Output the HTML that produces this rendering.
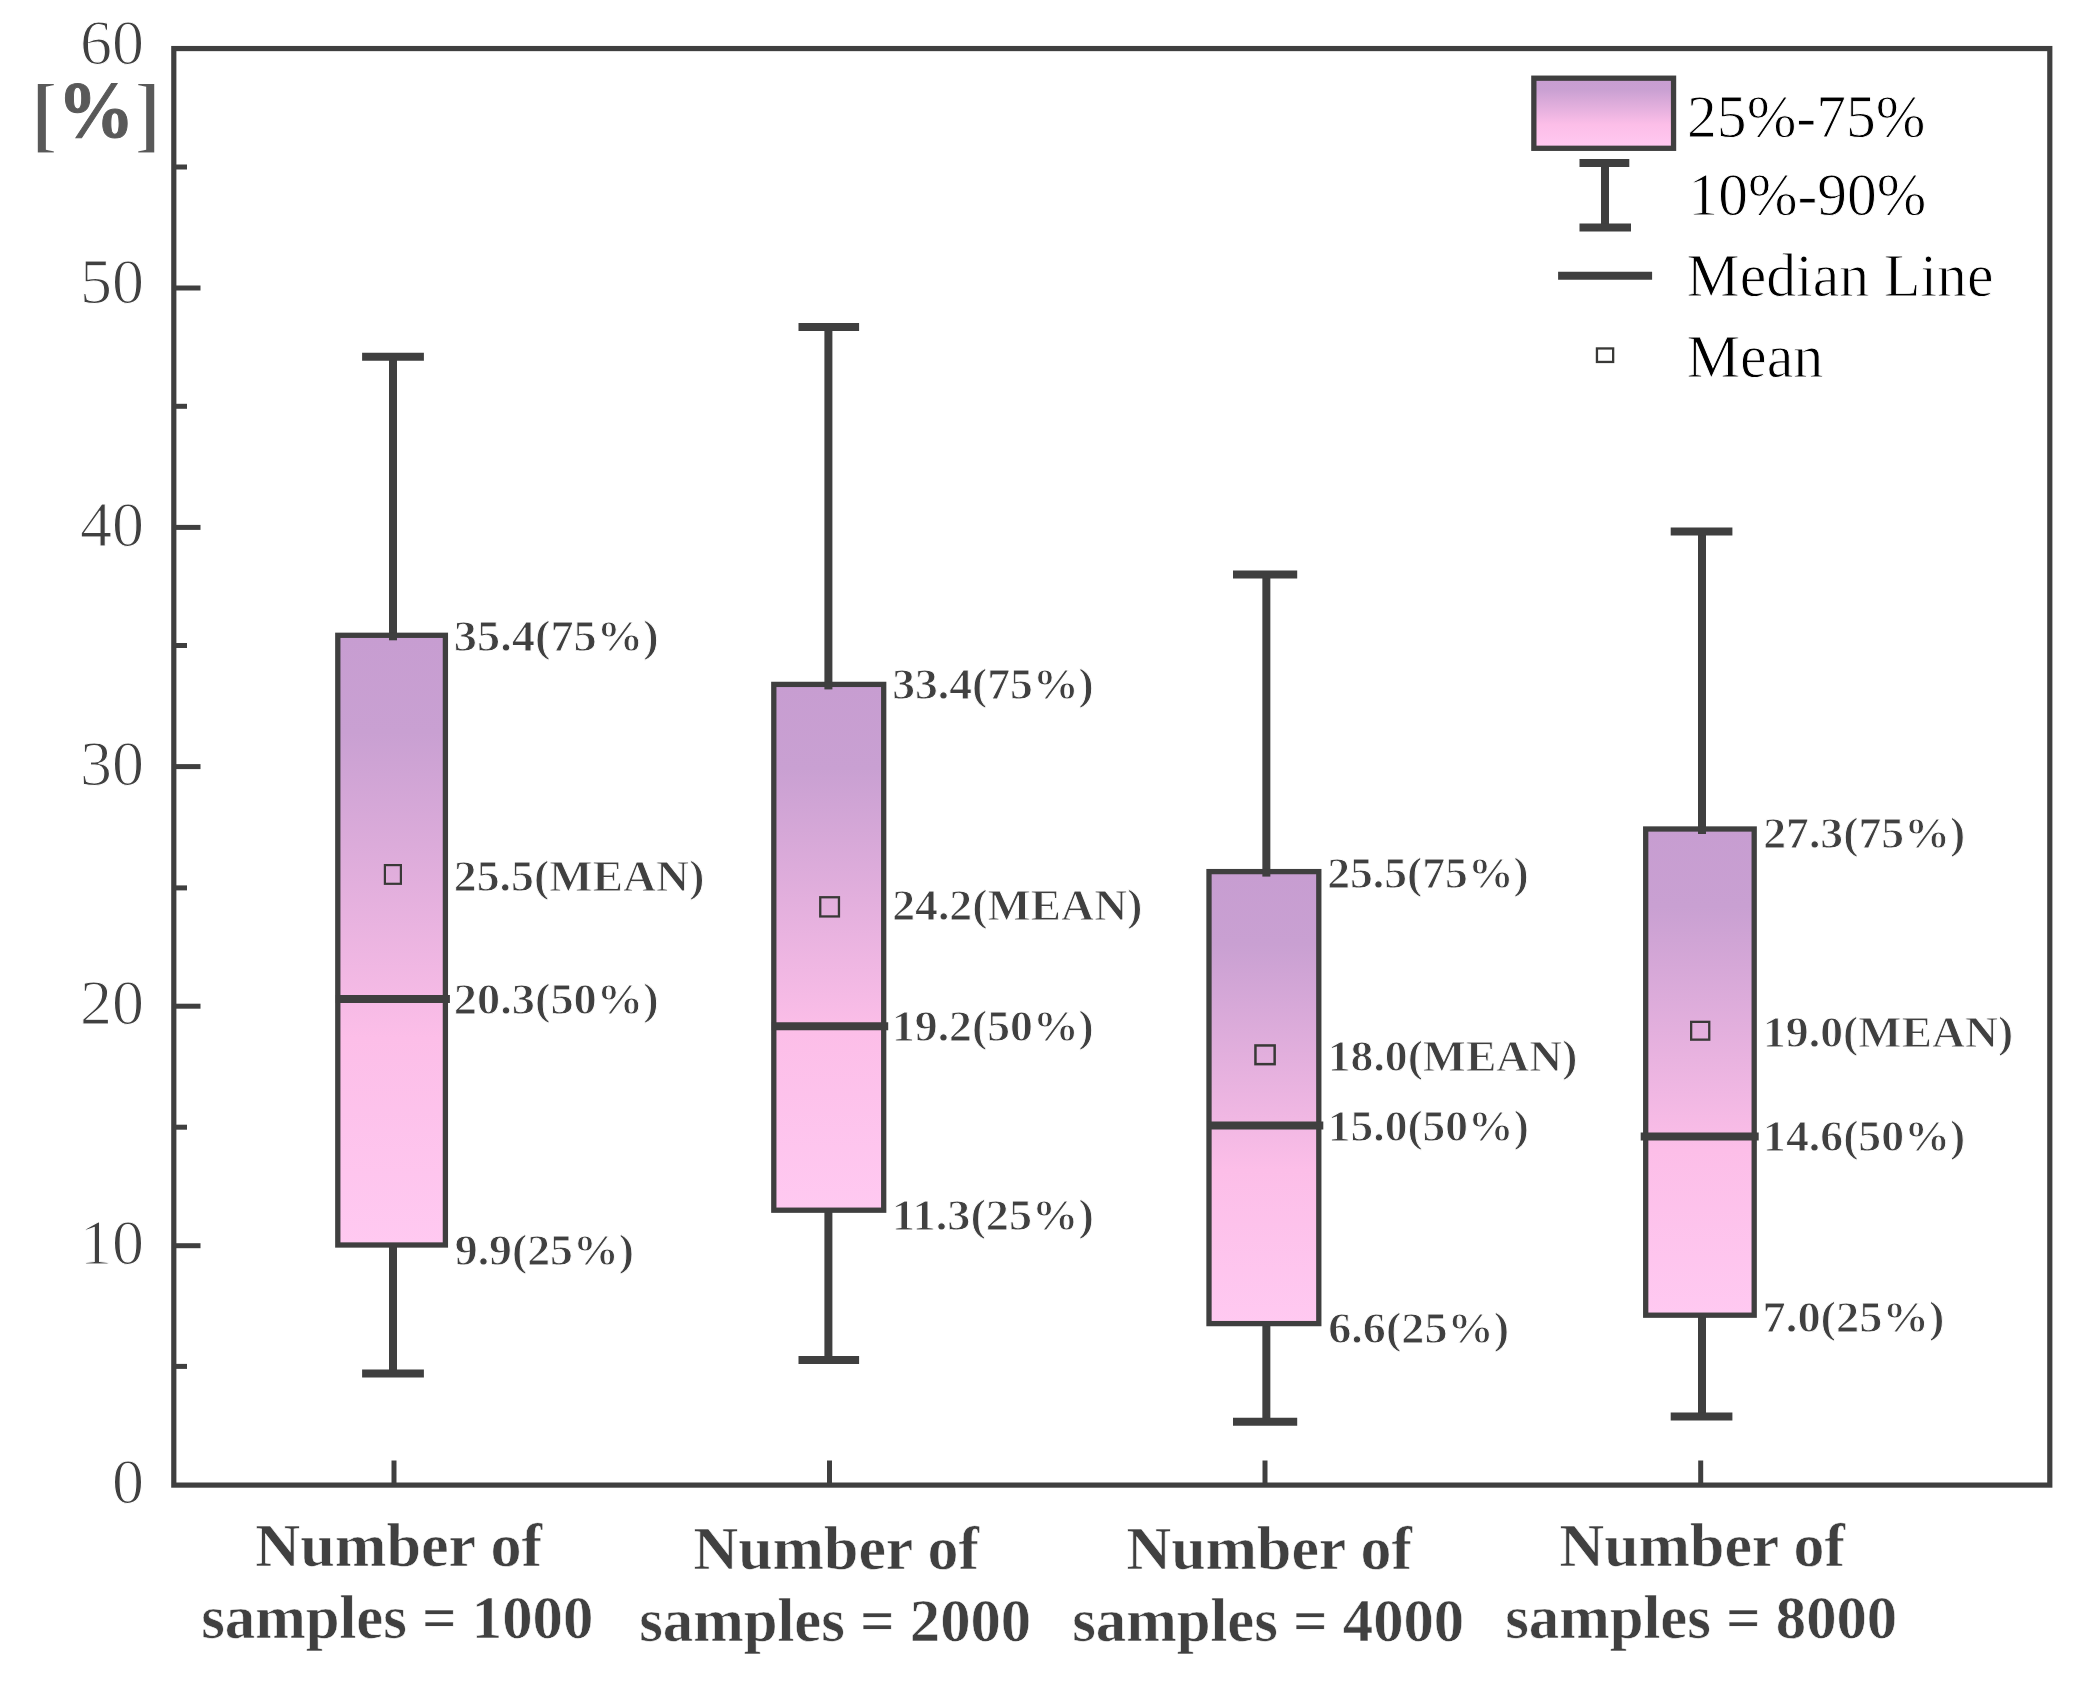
<!DOCTYPE html>
<html lang="en"><head><meta charset="utf-8"><title>Box plot</title>
<style>
html,body{margin:0;padding:0;background:#fff;}
body{width:2089px;height:1686px;overflow:hidden;}
svg{display:block;}
text{font-family:"Liberation Serif",serif;filter:blur(0.55px);}
.tick{font-size:64px;fill:#404040;stroke:#fff;stroke-width:1.1px;}
.lab{font-size:44.8px;font-weight:bold;fill:#404040;stroke:#fff;stroke-width:0.9px;}
.xl{font-size:61.5px;font-weight:bold;fill:#404040;stroke:#fff;stroke-width:0.6px;}
.lg{font-size:60.5px;fill:#000;stroke:#fff;stroke-width:0.9px;}
.unit{font-size:81px;font-weight:bold;fill:#595959;stroke:#fff;stroke-width:1.8px;}
</style></head><body>
<svg width="2089" height="1686" viewBox="0 0 2089 1686">
<defs>
<linearGradient id="g" x1="0" y1="0" x2="0" y2="1">
<stop offset="0" stop-color="#c79dd1"/>
<stop offset="0.16" stop-color="#c9a0d2"/>
<stop offset="0.66" stop-color="#fcbee8"/>
<stop offset="1" stop-color="#ffc9f1"/>
</linearGradient>
</defs>
<rect width="2089" height="1686" fill="#ffffff"/>

<rect x="173.8" y="48.55" width="1876.0000000000002" height="1436.55" fill="none" stroke="#3f3f3f" stroke-width="5.2"/>
<line x1="173.8" y1="167.0" x2="187" y2="167.0" stroke="#3f3f3f" stroke-width="5"/>
<line x1="173.8" y1="288.0" x2="200.5" y2="288.0" stroke="#3f3f3f" stroke-width="5"/>
<line x1="173.8" y1="406.3" x2="187" y2="406.3" stroke="#3f3f3f" stroke-width="5"/>
<line x1="173.8" y1="527.4" x2="200.5" y2="527.4" stroke="#3f3f3f" stroke-width="5"/>
<line x1="173.8" y1="645.5" x2="187" y2="645.5" stroke="#3f3f3f" stroke-width="5"/>
<line x1="173.8" y1="766.6" x2="200.5" y2="766.6" stroke="#3f3f3f" stroke-width="5"/>
<line x1="173.8" y1="887.9" x2="187" y2="887.9" stroke="#3f3f3f" stroke-width="5"/>
<line x1="173.8" y1="1006.2" x2="200.5" y2="1006.2" stroke="#3f3f3f" stroke-width="5"/>
<line x1="173.8" y1="1127.2" x2="187" y2="1127.2" stroke="#3f3f3f" stroke-width="5"/>
<line x1="173.8" y1="1245.7" x2="200.5" y2="1245.7" stroke="#3f3f3f" stroke-width="5"/>
<line x1="173.8" y1="1366.4" x2="187" y2="1366.4" stroke="#3f3f3f" stroke-width="5"/>
<text class="tick" x="144" y="64.3" text-anchor="end">60</text>
<text class="tick" x="144" y="303.2" text-anchor="end">50</text>
<text class="tick" x="144" y="545.5" text-anchor="end">40</text>
<text class="tick" x="144" y="784.8" text-anchor="end">30</text>
<text class="tick" x="144" y="1024.0" text-anchor="end">20</text>
<text class="tick" x="144" y="1263.7" text-anchor="end">10</text>
<text class="tick" x="144" y="1503.0" text-anchor="end">0</text>
<text class="unit" x="31" y="136.5" textLength="130" lengthAdjust="spacingAndGlyphs"><tspan dy="5.5" font-size="84">[</tspan><tspan dy="-5.5" stroke="#595959" stroke-width="1.0">%</tspan><tspan dy="5.5" font-size="84">]</tspan></text>
<line x1="393.0" y1="356.75" x2="393.0" y2="1373.5" stroke="#3f3f3f" stroke-width="8"/>
<line x1="362.1" y1="356.75" x2="423.9" y2="356.75" stroke="#3f3f3f" stroke-width="8"/>
<line x1="362.1" y1="1373.5" x2="423.9" y2="1373.5" stroke="#3f3f3f" stroke-width="8"/>
<rect x="337.8" y="635.3" width="107.6" height="609.7" fill="url(#g)" stroke="#3f3f3f" stroke-width="5.3"/>
<line x1="393.0" y1="633.3" x2="393.0" y2="640.3" stroke="#3f3f3f" stroke-width="8"/>
<line x1="335.8" y1="999.0" x2="449.9" y2="999.0" stroke="#3f3f3f" stroke-width="8"/>
<rect x="384.9" y="865.1" width="16.0" height="18.7" fill="none" stroke="#393937" stroke-width="2.2"/>
<line x1="394.0" y1="1460.5" x2="394.0" y2="1485.1" stroke="#3f3f3f" stroke-width="5"/>
<text class="lab" x="453.8" y="650.9" textLength="204.8" lengthAdjust="spacingAndGlyphs">35.4(75%)</text>
<text class="lab" x="453.8" y="890.6" textLength="250.6" lengthAdjust="spacingAndGlyphs">25.5(MEAN)</text>
<text class="lab" x="453.8" y="1014.1" textLength="204.8" lengthAdjust="spacingAndGlyphs">20.3(50%)</text>
<text class="lab" x="454.8" y="1264.7" textLength="179.2" lengthAdjust="spacingAndGlyphs">9.9(25%)</text>
<line x1="828.4" y1="327.05" x2="828.4" y2="1360.0" stroke="#3f3f3f" stroke-width="8"/>
<line x1="798.5" y1="327.05" x2="859.1" y2="327.05" stroke="#3f3f3f" stroke-width="8"/>
<line x1="798.5" y1="1360.0" x2="859.1" y2="1360.0" stroke="#3f3f3f" stroke-width="8"/>
<rect x="773.8" y="684.4" width="109.9" height="525.8" fill="url(#g)" stroke="#3f3f3f" stroke-width="5.3"/>
<line x1="828.4" y1="682.4" x2="828.4" y2="689.4" stroke="#3f3f3f" stroke-width="8"/>
<line x1="771.8" y1="1026.2" x2="888.2" y2="1026.2" stroke="#3f3f3f" stroke-width="8"/>
<rect x="820.25" y="897.25" width="18.7" height="19.2" fill="none" stroke="#393937" stroke-width="2.3"/>
<line x1="829.5" y1="1460.5" x2="829.5" y2="1485.1" stroke="#3f3f3f" stroke-width="5"/>
<text class="lab" x="892.2" y="699.1" textLength="201.6" lengthAdjust="spacingAndGlyphs">33.4(75%)</text>
<text class="lab" x="892.2" y="919.8" textLength="250.2" lengthAdjust="spacingAndGlyphs">24.2(MEAN)</text>
<text class="lab" x="892.0" y="1041.1" textLength="201.8" lengthAdjust="spacingAndGlyphs">19.2(50%)</text>
<text class="lab" x="892.0" y="1229.7" textLength="201.8" lengthAdjust="spacingAndGlyphs">11.3(25%)</text>
<line x1="1266.35" y1="574.55" x2="1266.35" y2="1421.7" stroke="#3f3f3f" stroke-width="8"/>
<line x1="1233.0" y1="574.55" x2="1297.2" y2="574.55" stroke="#3f3f3f" stroke-width="8"/>
<line x1="1233.0" y1="1421.7" x2="1297.2" y2="1421.7" stroke="#3f3f3f" stroke-width="8"/>
<rect x="1209.0" y="871.6" width="109.8" height="452.0" fill="url(#g)" stroke="#3f3f3f" stroke-width="5.3"/>
<line x1="1266.35" y1="869.6" x2="1266.35" y2="876.6" stroke="#3f3f3f" stroke-width="8"/>
<line x1="1207.0" y1="1125.5" x2="1323.3" y2="1125.5" stroke="#3f3f3f" stroke-width="8"/>
<rect x="1255.45" y="1045.45" width="19.2" height="18.7" fill="none" stroke="#393937" stroke-width="2.5"/>
<line x1="1265.0" y1="1460.5" x2="1265.0" y2="1485.1" stroke="#3f3f3f" stroke-width="5"/>
<text class="lab" x="1327.2" y="887.9" textLength="201.6" lengthAdjust="spacingAndGlyphs">25.5(75%)</text>
<text class="lab" x="1327.8" y="1070.8" textLength="249.6" lengthAdjust="spacingAndGlyphs">18.0(MEAN)</text>
<text class="lab" x="1327.8" y="1140.8" textLength="201.0" lengthAdjust="spacingAndGlyphs">15.0(50%)</text>
<text class="lab" x="1328.2" y="1342.5" textLength="181.0" lengthAdjust="spacingAndGlyphs">6.6(25%)</text>
<line x1="1702.0" y1="531.4" x2="1702.0" y2="1416.4" stroke="#3f3f3f" stroke-width="8"/>
<line x1="1670.7" y1="531.4" x2="1732.4" y2="531.4" stroke="#3f3f3f" stroke-width="8"/>
<line x1="1670.7" y1="1416.4" x2="1732.4" y2="1416.4" stroke="#3f3f3f" stroke-width="8"/>
<rect x="1645.7" y="829.0" width="108.5" height="486.2" fill="url(#g)" stroke="#3f3f3f" stroke-width="5.3"/>
<line x1="1702.0" y1="827.0" x2="1702.0" y2="834.0" stroke="#3f3f3f" stroke-width="8"/>
<line x1="1640.7" y1="1136.4" x2="1758.7" y2="1136.4" stroke="#3f3f3f" stroke-width="8"/>
<rect x="1691.15" y="1021.85" width="18.1" height="17.8" fill="none" stroke="#393937" stroke-width="2.3"/>
<line x1="1700.7" y1="1460.5" x2="1700.7" y2="1485.1" stroke="#3f3f3f" stroke-width="5"/>
<text class="lab" x="1763.2" y="847.7" textLength="202.0" lengthAdjust="spacingAndGlyphs">27.3(75%)</text>
<text class="lab" x="1763.0" y="1046.6" textLength="250.2" lengthAdjust="spacingAndGlyphs">19.0(MEAN)</text>
<text class="lab" x="1763.0" y="1151.2" textLength="202.2" lengthAdjust="spacingAndGlyphs">14.6(50%)</text>
<text class="lab" x="1762.6" y="1331.8" textLength="181.8" lengthAdjust="spacingAndGlyphs">7.0(25%)</text>
<text class="lg" x="1687.0" y="137.2" textLength="238.5" lengthAdjust="spacingAndGlyphs">25%-75%</text>
<text class="lg" x="1688.5" y="214.8" textLength="237.8" lengthAdjust="spacingAndGlyphs">10%-90%</text>
<text class="lg" x="1686.5" y="295.9" textLength="307.0" lengthAdjust="spacingAndGlyphs">Median Line</text>
<text class="lg" x="1686.5" y="376.9" textLength="136.9" lengthAdjust="spacingAndGlyphs">Mean</text>
<text class="xl" x="255.3" y="1565.5" textLength="286.9" lengthAdjust="spacingAndGlyphs">Number of</text>
<text class="xl" x="201.2" y="1638.0" textLength="392.1" lengthAdjust="spacingAndGlyphs">samples = 1000</text>
<text class="xl" x="693.5" y="1568.5" textLength="285.6" lengthAdjust="spacingAndGlyphs">Number of</text>
<text class="xl" x="639.2" y="1640.9" textLength="392.0" lengthAdjust="spacingAndGlyphs">samples = 2000</text>
<text class="xl" x="1126.5" y="1568.5" textLength="285.6" lengthAdjust="spacingAndGlyphs">Number of</text>
<text class="xl" x="1072.2" y="1640.9" textLength="392.0" lengthAdjust="spacingAndGlyphs">samples = 4000</text>
<text class="xl" x="1559.5" y="1565.5" textLength="285.6" lengthAdjust="spacingAndGlyphs">Number of</text>
<text class="xl" x="1505.2" y="1638.3" textLength="392.0" lengthAdjust="spacingAndGlyphs">samples = 8000</text>
<rect x="1533.85" y="78.2" width="139.7" height="70.1" fill="url(#g)" stroke="#3f3f3f" stroke-width="5.3"/>
<line x1="1605" y1="163" x2="1605" y2="227.5" stroke="#3f3f3f" stroke-width="8"/>
<line x1="1579.5" y1="163" x2="1629.3" y2="163" stroke="#3f3f3f" stroke-width="8"/>
<line x1="1579.5" y1="227.5" x2="1631" y2="227.5" stroke="#3f3f3f" stroke-width="8"/>
<line x1="1558.1" y1="275.85" x2="1652.1" y2="275.85" stroke="#3f3f3f" stroke-width="8"/>
<rect x="1596.95" y="348.45" width="16.2" height="13.5" fill="none" stroke="#393937" stroke-width="2.3"/>
</svg>
</body></html>
